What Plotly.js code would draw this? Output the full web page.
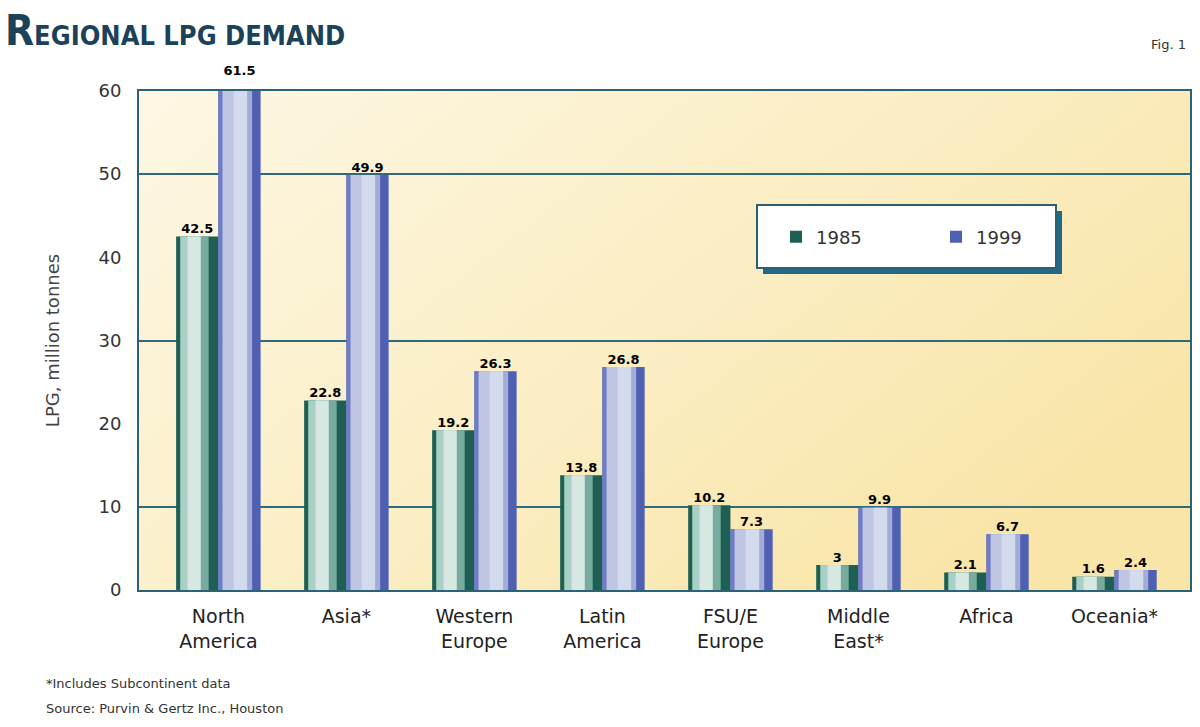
<!DOCTYPE html>
<html>
<head>
<meta charset="utf-8">
<script src="https://cdn.plot.ly/plotly-3.0.1.min.js"></script>
<style>html,body{margin:0;padding:0;background:#fff;}#chart{width:1200px;height:727px;}</style>
</head>
<body>
<div id="chart"></div>
<script>
// ---- data ----
const categories = ['North<br>America', 'Asia*', 'Western<br>Europe', 'Latin<br>America', 'FSU/E<br>Europe', 'Middle<br>East*', 'Africa', 'Oceania*'];
const demand1985 = [42.5, 22.8, 19.2, 13.8, 10.2, 3, 2.1, 1.6];
const demand1999 = [61.5, 49.9, 26.3, 26.8, 7.3, 9.9, 6.7, 2.4];
const yTickVals = [0, 10, 20, 30, 40, 50, 60];
const yTickText = ['0', '10', '20', '30', '40', '50', '60'];
const seriesNames = ['1985', '1999'];
const yMax = 60;

// ---- styling (cylinder shading layers: [start fraction, width fraction, colour]) ----
const W = 0.33;
const shade1985 = [[0, 1, '#1d5f52'], [0.10, 0.67, '#78ab9f'], [0.10, 0.48, '#a9d0c6'], [0.27, 0.31, '#d6e8e1']];
const shade1999 = [[0, 1, '#4f5fb2'], [0, 0.10, '#6e7cc6'], [0.10, 0.70, '#a3abd7'], [0.10, 0.58, '#bec6e4'], [0.36, 0.32, '#d3daee']];

// ---- geometry ----
const paperTop = 60, plotTop = 91, plotBottom = 590, plotLeft = 139, plotRight = 1190;
const mainDomainTop = (plotBottom - plotTop) / (plotBottom - paperTop);
const px2x = p => (p - plotLeft) / (plotRight - plotLeft);
const px2y = p => (plotBottom - p) / (plotBottom - paperTop);

const traces = [];
function addSeries(values, name, shades, base) {
  shades.forEach((s, k) => {
    traces.push({
      type: 'bar', x: categories, y: values, name: name,
      offset: base + s[0] * W, width: s[1] * W,
      marker: {color: s[2], line: {width: 0}},
      showlegend: k === 0, legendgroup: name, hoverinfo: 'skip'
    });
  });
}
function addLabels(values, name) {
  traces.push({
    type: 'scatter', mode: 'text', x: categories, y: values, name: name, yaxis: 'y2',
    offsetgroup: name, alignmentgroup: 'labels',
    text: values.map(v => String(v)), textposition: 'top center', cliponaxis: false,
    textfont: {family: 'DejaVu Sans, Arial', size: 13, color: '#000', weight: 'bold'},
    showlegend: false, hoverinfo: 'skip'
  });
}
addSeries(demand1985, seriesNames[0], shade1985, -W);
addSeries(demand1999, seriesNames[1], shade1999, 0);
addLabels(demand1985, seriesNames[0]);
addLabels(demand1999, seriesNames[1]);

const gradSvg = "<svg xmlns='http://www.w3.org/2000/svg' width='100' height='100' viewBox='0 0 100 100' preserveAspectRatio='none'>" +
  "<defs><linearGradient id='g' x1='0' y1='0' x2='1' y2='0.6'>" +
  "<stop offset='0' stop-color='#fdf7e4'/><stop offset='0.5' stop-color='#fbefc8'/><stop offset='1' stop-color='#f9e5a8'/>" +
  "</linearGradient></defs><rect width='100' height='100' fill='url(#g)'/></svg>";
const gradUrl = 'data:image/svg+xml;charset=utf-8,' + encodeURIComponent(gradSvg);

const frame = '#2b6275';

const layout = {
  width: 1200, height: 727,
  margin: {l: plotLeft, r: 1200 - plotRight, t: paperTop, b: 727 - plotBottom},
  paper_bgcolor: '#ffffff',
  plot_bgcolor: 'rgba(0,0,0,0)',
  barmode: 'overlay',
  scattermode: 'group', scattergap: 1 - 2 * W,
  font: {family: 'DejaVu Sans, Arial', color: '#333'},
  title: {
    text: "<span style='font-size:42px'>R</span>EGIONAL LPG DEMAND",
    font: {family: 'DejaVu Sans Condensed, Liberation Sans Narrow, Arial Narrow', size: 27, color: '#1b4259', weight: 'bold'},
    x: 5 / 1200, xanchor: 'left', xref: 'container',
    y: 1 - 36 / 727, yanchor: 'middle', yref: 'container'
  },
  xaxis: {
    type: 'category', range: [-0.62, 7.59], fixedrange: true,
    showline: true, mirror: true, linecolor: frame, linewidth: 2,
    ticks: '', showgrid: false, zeroline: false,
    tickfont: {size: 19, color: '#222'}, ticklabelstandoff: 8
  },
  yaxis: {
    domain: [0, mainDomainTop],
    range: [0, yMax], fixedrange: true,
    tickmode: 'array', tickvals: yTickVals, ticktext: yTickText,
    showline: true, mirror: true, linecolor: frame, linewidth: 2,
    ticks: '', showgrid: false, zeroline: false,
    tickfont: {size: 18, color: '#333'}, ticklabelstandoff: 12,
    minor: {tick0: 10, dtick: 20, showgrid: true, gridcolor: '#2e6a7c', gridwidth: 2, ticks: ''},
    title: {text: 'LPG, million tonnes', font: {size: 18, color: '#444'}, standoff: 34}
  },
  yaxis2: {
    domain: [0, 1], anchor: 'x', range: [0, yMax / mainDomainTop], fixedrange: true, visible: false
  },
  legend: {
    orientation: 'h', x: px2x(776), y: px2y(237), xanchor: 'left', yanchor: 'middle',
    bgcolor: 'rgba(0,0,0,0)', borderwidth: 0,
    font: {size: 18, color: '#333'}, entrywidth: 115, itemclick: false, itemdoubleclick: false
  },
  images: [{
    source: gradUrl, xref: 'x domain', yref: 'y domain', x: 0, y: 1, sizex: 1, sizey: 1,
    sizing: 'stretch', layer: 'below', xanchor: 'left', yanchor: 'top'
  }],
  shapes: [
    {type: 'rect', xref: 'paper', yref: 'paper', x0: px2x(763), x1: px2x(1062), y0: px2y(211), y1: px2y(274),
     fillcolor: '#1f6a88', line: {width: 0}, layer: 'above'},
    {type: 'rect', xref: 'paper', yref: 'paper', x0: px2x(757), x1: px2x(1056), y0: px2y(205), y1: px2y(268),
     fillcolor: '#ffffff', line: {color: '#2b5f72', width: 2}, layer: 'above'}
  ],
  annotations: [
    {text: 'Fig. 1', xref: 'paper', yref: 'paper', x: px2x(1188), y: px2y(45), xanchor: 'right', yanchor: 'middle',
     showarrow: false, font: {size: 13, color: '#333'}},
    {text: '*Includes Subcontinent data', xref: 'paper', yref: 'paper', x: px2x(44), y: px2y(683), xanchor: 'left', yanchor: 'middle',
     showarrow: false, font: {size: 13, color: '#333'}},
    {text: 'Source: Purvin & Gertz Inc., Houston', xref: 'paper', yref: 'paper', x: px2x(44), y: px2y(708), xanchor: 'left', yanchor: 'middle',
     showarrow: false, font: {size: 13, color: '#333'}}
  ],
  hovermode: false
};

Plotly.newPlot('chart', traces, layout, {displayModeBar: false, staticPlot: true});
</script>
</body>
</html>
